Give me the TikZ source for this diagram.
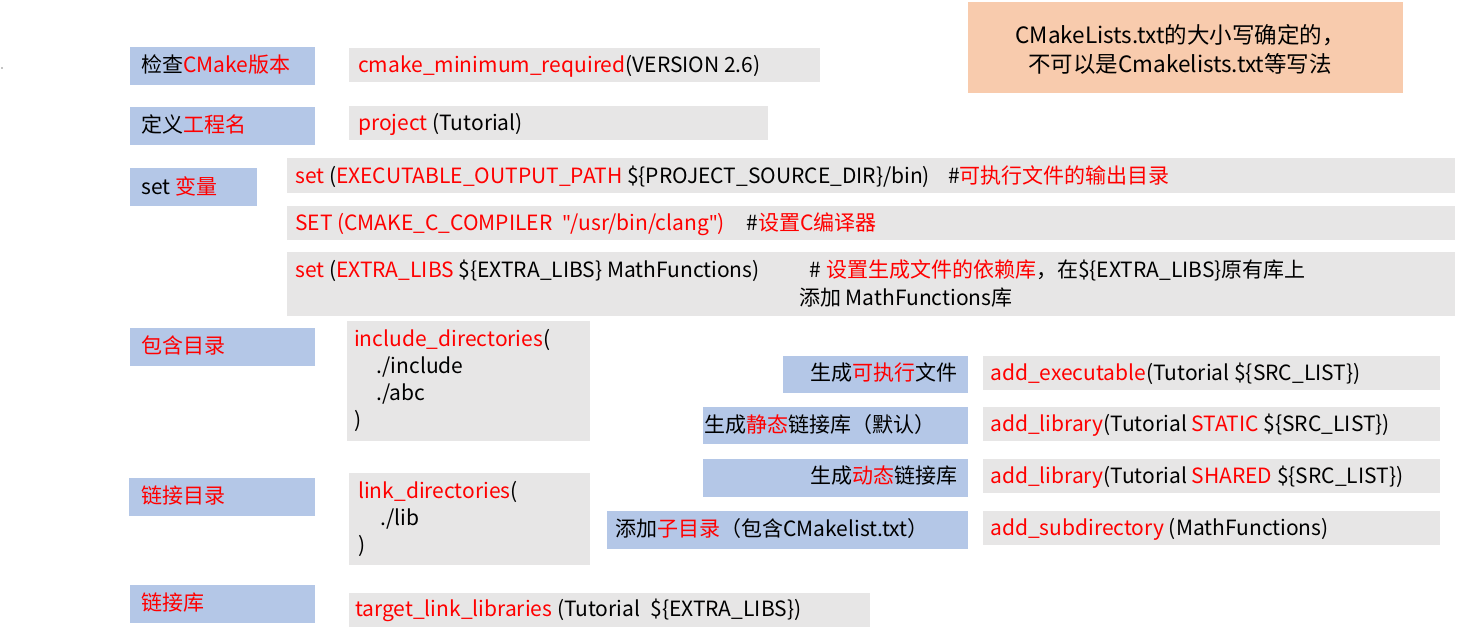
\documentclass[tikz,border=0pt]{standalone}
\usepackage{fontspec}
\setmainfont{Noto Sans CJK SC}
\newfontfamily\lat{Noto Sans}
\usepackage{xcolor}
\definecolor{bl}{HTML}{B4C7E7}
\definecolor{gr}{HTML}{E7E6E6}
\definecolor{org}{HTML}{F8CBAD}
\newcommand\R[1]{\textcolor{red}{#1}}
\newcommand\qq{{\lat\char34\relax}}
\tikzset{txt/.style={anchor=north west,inner sep=0pt,font=\fontsize{21}{27}\selectfont,align=left}}
\newcommand\bx[6]{\fill[#6] (#2,#3) rectangle (#4,#5); \coordinate (#1) at (#2,#3);}
\begin{document}
\begin{tikzpicture}[x=1pt,y=-1pt]
\useasboundingbox (0,0) rectangle (1463,632);
\fill (2,68) circle (0.7);
% left labels
\bx{l1}{130}{47}{315}{85}{bl}
\node[txt] (t1) at (141,55) {检查\R{CMake版本}};
\bx{l2}{130}{107}{315}{145}{bl}
\node[txt] (t2) at (141,115) {定义\R{工程名}};
\bx{l3}{130}{168}{257}{206}{bl}
\node[txt] (t3) at (141,176) {set \R{变量}};
\bx{l4}{130}{328}{315}{366}{bl}
\node[txt] (t4) at (141,336) {\R{包含目录}};
\bx{l5}{129}{478}{315}{516}{bl}
\node[txt] (t5) at (141,486) {\R{链接目录}};
\bx{l6}{130}{585}{315}{623}{bl}
\node[txt] (t6) at (141,593) {\R{链接库}};
% gray code boxes
\bx{g1}{349}{48}{820}{82}{gr}
\node[txt] (c1) at (358,55) {\R{cmake\_minimum\_required}(VERSION 2.6)};
\bx{g2}{349}{106}{768}{140}{gr}
\node[txt] (c2) at (358,113) {\R{project} (Tutorial)};
\bx{g3}{287}{158}{1455}{193}{gr}
\node[txt] (c3) at (295,166) {\R{set} (\R{EXECUTABLE\_OUTPUT\_PATH} \$\{PROJECT\_SOURCE\_DIR\}/bin)\hspace{18pt}\#\R{可执行文件的输出目录}};
\bx{g4}{287}{206}{1455}{240}{gr}
\node[txt] (c4) at (295,213) {\R{SET (CMAKE\_C\_COMPILER\hspace{10pt}\qq/usr/bin/clang\qq)}\hspace{22pt}\#\R{设置C编译器}};
\bx{g5}{287}{252}{1455}{316}{gr}
\node[txt] (c5) at (295,260) {\R{set} (\R{EXTRA\_LIBS} \$\{EXTRA\_LIBS\} MathFunctions)\hspace{50pt}\# \R{设置生成文件的依赖库}，在\$\{EXTRA\_LIBS\}原有库上};
\node[txt] (c5b) at (799,288) {添加 MathFunctions库};
\bx{g6}{347}{321}{590}{441}{gr}
\node[txt] (c6) at (354,329) {\R{include\_directories}(\\\hspace{22pt}./include\\\hspace{22pt}./abc\\)};
\bx{g7}{349}{473}{590}{565}{gr}
\node[txt] (c7) at (358,481) {\R{link\_directories}(\\\hspace{22pt}./lib\\)};
\bx{g8}{349}{593}{870}{627}{gr}
\node[txt] (c8) at (355,599) {\R{target\_link\_libraries} (Tutorial\hspace{10pt}\$\{EXTRA\_LIBS\})};
% orange note
\bx{o1}{968}{2}{1403}{93}{org}
\node[anchor=center,align=center,inner sep=0pt,font=\fontsize{22.5}{29}\selectfont] (note) at (1180,49) {CMakeLists.txt的大小写确定的，\\不可以是Cmakelists.txt等写法};
% right blue
\bx{r1}{783}{356}{968}{393}{bl}
\node[txt,anchor=north east] (rt1) at (958,363) {生成\R{可执行}文件};
\bx{r2}{703}{407}{968}{444}{bl}
\node[txt] (rt2) at (704,414) {生成\R{静态}链接库（默认）};
\bx{r3}{703}{459}{968}{497}{bl}
\node[txt,anchor=north east] (rt3) at (958,466) {生成\R{动态}链接库};
\bx{r4}{607}{511}{968}{549}{bl}
\node[txt] (rt4) at (615,518) {添加\R{子目录}（包含CMakelist.txt）};
% right gray
\bx{s1}{983}{356}{1440}{390}{gr}
\node[txt] (st1) at (990,363) {\R{add\_executable}(Tutorial \$\{SRC\_LIST\})};
\bx{s2}{983}{407}{1440}{441}{gr}
\node[txt] (st2) at (990,414) {\R{add\_library}(Tutorial \R{STATIC} \$\{SRC\_LIST\})};
\bx{s3}{983}{459}{1440}{493}{gr}
\node[txt] (st3) at (990,466) {\R{add\_library}(Tutorial \R{SHARED} \$\{SRC\_LIST\})};
\bx{s4}{983}{511}{1440}{545}{gr}
\node[txt] (st4) at (990,518) {\R{add\_subdirectory} (MathFunctions)};
\end{tikzpicture}
\end{document}
